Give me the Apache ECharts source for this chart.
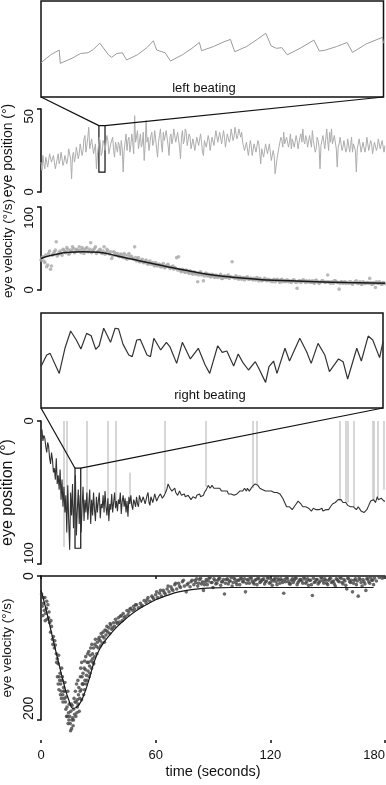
<!DOCTYPE html>
<html><head><meta charset="utf-8">
<script src="https://cdn.jsdelivr.net/npm/echarts@6/dist/echarts.min.js"></script>
<style>html,body{margin:0;padding:0;background:#fff}#c{width:386px;height:785px}</style>
</head><body><div id="c"></div>
<script>
// ---------- data ----------
const timeTicks = [0, 60, 120, 180];
const SAMPLE_DT = 0.5; // seconds between samples of the position traces

// left-beating eye position (deg), t = 0..180 every 0.5 s
const posLeft = [18,13,22,17,14,21,20,15,16,23,
24,18,17,22,21,14,15,20,23,17,
19,24,25,16,18,22,23,17,20,26,
27,20,8,22,24,18,21,27,26,20,
23,29,30,22,25,32,34,24,28,33,
39,26,27,32,31,23,24,29,14,22,
27,33,30,22,24,31,29,25,26,34,
31,23,22,29,28,33,25,21,30,27,
24,30,28,22,31,26,12,25,30,35,
25,31,33,24,28,35,30,23,46,30,
31,37,26,30,35,27,29,36,19,28,
43,30,33,25,24,34,36,28,30,37,
32,26,21,30,34,38,29,24,36,31,
31,37,37,28,22,33,35,29,32,38,
38,30,30,36,35,27,20,33,37,29,
31,38,36,28,29,35,33,26,26,32,
31,25,24,33,33,28,27,35,30,24,
22,31,32,27,28,34,31,25,26,33,
34,28,29,37,36,30,31,36,35,29,
30,37,33,27,28,35,36,30,32,38,
37,31,33,39,40,32,34,38,38,33,
36,30,29,25,24,30,30,22,26,31,
28,22,23,29,30,24,25,31,29,23,
17,26,27,21,22,29,28,23,24,29,
24,19,19,25,22,11,11,20,20,27,
26,33,31,27,36,29,28,33,32,27,
30,35,26,32,33,27,28,34,31,26,
27,33,35,30,38,31,29,34,32,27,
28,34,33,27,37,31,30,24,26,33,
31,27,14,28,29,34,33,26,27,38,
31,25,36,30,38,29,28,34,33,26,
15,27,29,33,32,25,27,31,30,24,
26,32,31,24,28,33,24,29,30,25,
12,26,27,32,31,24,25,30,30,24,
27,33,32,25,26,31,29,23,24,30,
31,25,27,32,33,26,25,31,30,24,
28];

// left-beating slow-phase eye velocity (deg/s): samples at whole seconds and at half seconds
const velLeft = [36,40,33,28,44,25,42,46,58,43,
47,42,48,45,49,44,47,50,46,48,
52,45,49,47,51,46,57,48,50,44,
46,49,44,52,45,47,43,38,46,42,
44,40,43,39,42,37,44,41,38,52,
35,39,34,37,33,36,31,35,32,30,
33,29,31,28,32,27,30,28,27,29,
27,39,40,23,25,22,24,21,23,20,
22,19,10,21,18,11,20,17,19,16,
18,15,17,16,19,14,17,15,18,16,
34,15,17,14,16,13,15,14,16,13,
14,12,13,15,11,13,12,14,11,13,
12,10,13,11,12,9,13,11,10,12,
11,9,12,10,2,11,9,12,10,11,
10,9,11,8,12,10,9,11,10,9,
18,9,10,8,11,9,1,10,8,10,
9,8,10,7,9,11,8,10,7,9,
8,9,14,7,9,3,8,10,7,9,8];
const velLeftHalf = [39,35,42,30,47,29,44,48,41,45,
44,49,46,51,43,48,52,45,49,47,
48,51,44,50,46,49,45,47,52,46,
48,45,47,43,49,44,46,41,45,43,
41,43,40,44,38,42,39,40,37,39,
37,34,36,33,35,32,34,31,33,29,
30,31,28,30,27,29,31,26,28,25,
26,24,25,22,24,21,23,20,22,19,
21,20,18,22,19,17,20,18,16,19,
16,18,15,17,14,16,15,17,14,16,
15,14,16,13,15,14,12,15,13,14,
13,14,12,13,14,11,12,13,12,11,
11,12,10,13,11,12,10,11,12,10,
10,11,12,9,10,11,10,12,9,10,
11,10,9,11,10,8,10,11,9,10,
10,8,9,11,10,9,8,10,9,8,
9,10,8,9,10,8,9,7,10,8,
9,8,9,7,8,10,8,9,7,8];
const velLeftFitT = [0,5,10,15,22,30,40,48,57,66,75,83,92,100,110,118,130,144,160,180];
const velLeftFitV = [38,41.5,44,45.5,46,45.5,41,37,32.5,28,24,20.5,17.5,15.5,13.5,12,11,10,9,8];

// right-beating eye position (deg, plotted downward), t = 0..180 every 0.5 s
const posRight = [8,6,14,10,12,18,22,15,18,26,
30,22,27,36,33,41,26,44,38,48,
34,55,41,60,46,64,52,78,45,70,
90,50,66,44,75,58,38,80,62,48,
72,52,78,60,46,70,55,64,50,69,
58,48,72,55,66,50,62,70,53,64,
56,50,68,58,61,52,64,49,60,66,
54,70,58,62,51,64,57,50,61,56,
63,55,58,50,65,56,52,60,54,64,
56,67,53,58,52,59,62,55,57,60,
53,58,60,52,51,57,58,53,54,58,
57,52,50,57,59,53,53,57,56,51,
52,56,57,53,54,51,50,54,55,52,
53,49,47,44,44,47,46,49,49,48,
47,50,50,52,52,49,49,52,53,51,
51,53,54,52,52,53,53,55,55,53,
52,54,54,52,53,51,51,53,54,52,
52,50,50,48,47,45,45,47,46,45,
46,47,47,46,47,48,48,47,48,49,
49,48,49,50,50,49,51,50,50,51,
51,50,52,53,53,51,50,51,49,48,
48,49,49,47,48,49,47,48,49,48,
48,46,46,45,44,43,43,45,46,47,
47,48,48,47,48,49,49,48,49,50,
50,49,49,50,50,51,51,50,50,51,
51,52,52,54,55,57,58,60,60,61,
60,61,61,62,61,60,60,58,58,56,
55,56,58,59,60,61,61,60,60,61,
61,62,62,63,63,61,61,62,62,63,
63,62,62,61,61,63,63,62,62,61,
61,62,62,60,60,58,58,57,57,56,
56,55,56,55,55,56,57,56,56,57,
58,59,59,60,60,61,61,60,59,60,
62,61,60,61,61,63,63,64,64,63,
65,62,61,59,58,56,56,55,55,56,
57,55,53,55,55,54,54,55,55,56,
56];
// grey saccade artefacts in the right-beating position trace
const spikeT    = [12.0,13.4,23.7,34.7,38.9,46.4,64.7,86.2,110.6,112.8,156.5,159.6,160.3,163.4,173.6,174.3,176.0,179.1];
const spikeFrom = [0,0,0,0,0,36,0,0,0,0,0,0,0,0,0,0,0,0];
const spikeTo   = [88,60,55,62,58,55,50,46,47,44,56,57,57,60,56,56,53,48];

// right-beating slow-phase eye velocity (deg/s, plotted downward): [t, v]
const velRight = [[0.3,25],[0.6,42],[1,55],[1.3,38],[1.7,48],[2,30],[2.4,52],[2.8,45],[3.2,60],[3.6,40],[4,58],[4.5,65],
[5,78],[5.5,70],[6,88],[6.5,84],[7,100],[7.5,96],[8,108],[8.5,115],[9,122],[9.5,140],[10,135],
[10.3,150],[10.6,160],[11,145],[11.4,165],[11.8,155],[12.2,170],[12.5,148],[12.8,175],[13.2,168],[13.6,182],[14,160],[14.4,190],[14.8,178],
[15,195],[15.3,205],[15.6,188],[16,212],[16.3,180],[16.6,197],[17,185],[17.3,170],[17.6,192],[18,160],[18.3,175],[18.6,150],[19,182],[19.3,145],[19.6,165],[20,188],
[20.3,170],[20.6,140],[21,158],[21.3,120],[21.6,150],[22,135],[22.3,165],[22.6,128],[23,145],[23.4,112],[23.8,138],[24.2,120],[24.6,132],[25,105],[25.4,125],[25.8,110],
[26.2,118],[26.6,95],[27,108],[27.5,100],[28,112],[28.5,88],[29,98],[29.5,92],[30,100],[30.5,85],[31,90],[31.5,80],[32,93],[32.5,78],[33,86],[33.5,75],[34,82],[34.5,70],[35,78],
[35.5,72],[36,80],[36.5,68],[37,74],[38,65],[38.5,70],[39,60],[40,66],[40.5,58],[41,64],[42,55],[42.5,62],[43,52],[44,56],[45,48],[45.5,54],[46,50],[47,45],[48,48],[48.5,42],[49,46],[50,40],[51,44],[52,38],[53,41],[54,34],[55,37],[56,30],[57,35],[58,28],[59,32],[60,26],
[61,30],[62,24],[63,28],[64,20],[65,25],[66,18],[67,22],[68,15],[69,20],[70,12],[71,18],[72,10],[73,16],[74,8],[75,14],[76,22],[77,10],[78,15],[79,6],[80,12],[81,9],[82,14],[83,5],[84,11],[85,20],[86,8],[87,12],[88,3],[89,9],[90,16],
[91,6],[92,10],[93,4],[94,13],[95,8],[96,25],[97,5],[98,11],[99,7],[100,14],[101,3],[102,9],[103,6],[104,12],[105,4],[106,8],[107,22],[108,5],[109,10],[110,3],
[111,9],[112,6],[113,12],[114,4],[115,8],[116,5],[117,11],[118,7],[119,3],[120,9],[121,13],[122,5],[123,8],[124,4],[125,10],[126,6],[127,24],[128,8],[129,4],[130,11],
[131,6],[132,9],[133,3],[134,12],[135,7],[136,5],[137,10],[138,4],[139,8],[140,13],[141,6],[142,27],[143,9],[144,5],[145,11],[146,7],[147,3],[148,10],[149,6],[150,12],
[151,4],[152,9],[153,7],[154,14],[155,5],[156,8],[157,3],[158,11],[159,7],[160,18],[161,4],[162,9],[163,22],[164,6],[165,12],[166,28],[167,5],[168,14],[169,8],[170,20],
[171,4],[172,10],[173,6],[174,12],[177,2],[178.5,3],[179.5,2],
[1.2,30],[2.2,62],[3,35],[4.2,50],[5.2,62],[6.2,95],[7.2,90],[8.2,120],[9.2,110],[10.8,128],[11.2,140],[12,160],[13,185],[13.8,195],[14.6,200],[15.8,178],[16.8,208],[17.8,175],[18.8,190],[19.8,155],
[20.8,128],[21.8,150],[22.8,118],[23.6,150],[24.4,108],[25.2,140],[26,100],[27.2,120],[28.2,95],[29.2,108],[30.2,88],[31.2,97],[32.2,84],[33.2,92],[34.2,76],[36.2,66],[37.5,72],[39.5,64],[41.5,56],[43.5,58],
[46.5,46],[49.5,40],[52.5,42],[55.5,33],[58.5,30],[60.5,22],[62.5,20],[64.5,23],[66.5,14],[68.5,18],[70.5,10],[72.5,14],[74.5,6],[76.5,12],[78.5,8],
[8.6,140],[9,150],[9.4,158],[9.8,145],[10.2,165],[10.7,170],[11.5,175],[12.4,160],[13.4,195],[14.2,205],[15.5,215],[16.2,200],[17,200],[18.2,195],[19,172],[19.5,178],
[20.5,160],[21.2,172],[21.5,140],[22.2,150],[22.8,158],[23.2,130],[24,145],[24.8,120],[25.6,135],[26.4,128],[27,115],[27.6,122]];
// extra plateau samples of the same record, at t = 80.5, 81.5, ... 175.5 s
const velRightPlateau = [6,4,10,3,8,12,5,7,2,9,
4,11,6,3,8,5,10,4,7,2,
9,5,12,6,3,8,4,10,6,2,
7,11,5,3,9,6,4,8,2,10,
5,7,3,12,6,4,9,5,2,8,
11,4,6,3,9,5,7,2,10,4,
6,12,3,8,5,9,2,7,4,10,
6,3,8,11,4,7,2,9,5,13,
3,8,6,10,4,7,3,9,5,11,
4,8,2,6,3,7];
const PLATEAU_T0 = 80.5;
const velRightFitT = [0,3,6,9,12,14.5,17,19.5,22,25,28,31,35,40,45,50,55,60,66,72,80,90,100,174];
const velRightFitV = [20,50,85,118,150,172,184,180,168,145,118,100,85,70,58,48,40,33,27,22,18.5,16.5,16,16];

// zoomed windows: [tStart, tEnd, vLow, vHigh]
const winLeft  = [30.3, 33.5, 12, 40];
const winRight = [17.8, 20.8, 33, 89];
// zoomed traces [t, v]
const insetLeft = [[30.30,22.0],[30.39,24.3],[30.47,25.7],[30.48,21.8],[30.59,23.3],[30.67,24.7],[30.74,24.9],[30.79,25.9],[30.85,27.7],[30.93,24.3],[30.96,23.6],[31.01,24.7],[31.06,24.9],[31.10,22.8],[31.20,24.3],[31.29,26.4],[31.35,28.4],[31.38,25.7],[31.46,24.9],[31.51,22.5],[31.62,24.3],[31.71,26.2],[31.78,27.9],[31.80,25.5],[31.91,26.7],[32.01,28.1],[32.07,28.8],[32.11,25.2],[32.22,26.7],[32.32,28.8],[32.40,30.6],[32.45,26.9],[32.50,26.2],[32.55,26.4],[32.60,24.3],[32.72,26.2],[32.85,28.6],[32.90,25.4],[32.96,25.7],[33.06,26.7],[33.16,27.9],[33.21,25.0],[33.34,27.5],[33.49,29.4],[33.50,27.7]];
const insetRight = [[17.80,64.6],[17.85,57.8],[17.88,56.8],[17.96,68.6],[18.01,53.8],[18.06,43.6],[18.11,48.9],[18.15,54.2],[18.20,45.0],[18.24,46.4],[18.28,54.4],[18.31,52.3],[18.35,42.0],[18.41,50.3],[18.45,42.0],[18.48,42.4],[18.52,51.5],[18.57,57.8],[18.60,58.7],[18.64,48.9],[18.67,48.5],[18.73,57.8],[18.76,58.7],[18.79,47.9],[18.85,54.8],[18.90,50.3],[18.93,52.8],[18.99,62.7],[19.04,50.3],[19.11,60.1],[19.18,53.8],[19.24,63.7],[19.28,68.6],[19.35,52.3],[19.39,56.2],[19.43,55.4],[19.49,64.2],[19.53,57.2],[19.57,62.1],[19.62,66.6],[19.68,61.7],[19.71,65.6],[19.77,73.9],[19.80,64.6],[19.84,61.3],[19.87,68.6],[19.94,53.8],[19.98,61.3],[20.07,47.9],[20.13,55.8],[20.17,62.7],[20.23,50.9],[20.29,57.8],[20.33,67.6],[20.41,60.1],[20.45,61.7],[20.49,71.9],[20.57,53.8],[20.61,61.3],[20.67,46.6],[20.71,48.9],[20.77,59.3],[20.80,49.9]];

// ---------- chart ----------
const FONT = '"Liberation Sans", Arial, sans-serif';
const INK = '#111';
const chart = echarts.init(document.getElementById('c'), null, {renderer: 'canvas'});

function hiddenAx(grid, min, max, inverse) {
  return {type: 'value', gridIndex: grid, min, max, inverse: !!inverse, show: false};
}
function yAx(grid, min, max, inverse, name, nameSize, nameGap, maxAlign, labelSize) {
  return {
    type: 'value', gridIndex: grid, min, max, interval: max, inverse,
    name, nameLocation: 'middle', nameGap,
    nameTextStyle: {fontFamily: FONT, fontSize: nameSize, color: INK},
    axisLine: {show: true, lineStyle: {color: INK, width: 1.6}},
    axisTick: {show: true, length: 4, lineStyle: {color: INK, width: 1.5}},
    axisLabel: {rotate: 90, margin: 5, fontFamily: FONT, fontSize: labelSize, color: INK, alignMaxLabel: maxAlign},
    splitLine: {show: false}
  };
}
const timeAxis = {min: timeTicks[0], max: timeTicks[timeTicks.length - 1], interval: timeTicks[1] - timeTicks[0]};
const toSeries = (arr, dt, t0) => arr.map((v, i) => [(t0 || 0) + i * dt, v]);
const zip = (a, b) => a.map((t, i) => [t, b[i]]);

const baseGrid = {containLabel: false, outerBoundsMode: 'none'};
const boxGrid = {show: true, borderColor: INK, borderWidth: 1.5, backgroundColor: 'transparent'};
const option = {
  animation: false,
  backgroundColor: '#fff',
  grid: [
    Object.assign({left: 41, right: 2.5, top: 1, height: 96}, baseGrid, boxGrid),
    Object.assign({left: 41, right: 1, top: 109, height: 83}, baseGrid),
    Object.assign({left: 41, right: 1, top: 207, height: 83}, baseGrid),
    Object.assign({left: 41, right: 3, top: 313, height: 95}, baseGrid, boxGrid),
    Object.assign({left: 41, right: 1, top: 421, height: 143}, baseGrid),
    Object.assign({left: 41, right: 1, top: 576, height: 144}, baseGrid)
  ],
  xAxis: [
    hiddenAx(0, winLeft[0], winLeft[1]),
    Object.assign(hiddenAx(1, 0, 180), timeAxis),
    Object.assign(hiddenAx(2, 0, 180), timeAxis),
    hiddenAx(3, winRight[0], winRight[1]),
    Object.assign(hiddenAx(4, 0, 180), timeAxis),
    Object.assign({
      type: 'value', gridIndex: 5, position: 'bottom', offset: 23,
      name: 'time (seconds)', nameLocation: 'middle', nameGap: 21,
      nameTextStyle: {fontFamily: FONT, fontSize: 14.5, color: INK},
      axisLine: {show: true, lineStyle: {color: INK, width: 1.6}},
      axisTick: {show: true, length: 3, lineStyle: {color: INK, width: 1.5}},
      axisLabel: {margin: 6, fontFamily: FONT, fontSize: 13, color: INK, alignMaxLabel: 'right'},
      splitLine: {show: false}
    }, timeAxis),
    Object.assign({
      type: 'value', gridIndex: 5, position: 'bottom', offset: 23,
      axisLine: {show: false},
      axisTick: {show: true, inside: true, length: 3, lineStyle: {color: INK, width: 1.5}},
      axisLabel: {show: false}, splitLine: {show: false}
    }, timeAxis)
  ],
  yAxis: [
    hiddenAx(0, winLeft[2], winLeft[3]),
    yAx(1, 0, 50, false, 'eye position (°)', 14, 24, 'right', 13),
    yAx(2, 0, 100, false, 'eye velocity (°/s)', 13.5, 24, 'right', 13),
    hiddenAx(3, winRight[2], winRight[3], true),
    yAx(4, 0, 100, true, 'eye position (°)', 16, 21, 'left', 13),
    yAx(5, 0, 200, true, 'eye velocity (°/s)', 13.5, 23, 'left', 14)
  ],
  series: [
    {type: 'line', xAxisIndex: 0, yAxisIndex: 0, data: insetLeft, symbol: 'none',
     lineStyle: {color: '#9c9c9c', width: 1}},
    {type: 'line', xAxisIndex: 1, yAxisIndex: 1, data: toSeries(posLeft, SAMPLE_DT), symbol: 'none',
     lineStyle: {color: '#adadad', width: 1},
     markArea: {silent: true, itemStyle: {color: 'rgba(0,0,0,0)', borderColor: INK, borderWidth: 1.2},
       data: [[{coord: [winLeft[0], winLeft[3]]}, {coord: [winLeft[1], winLeft[2]]}]]}},
    {type: 'scatter', xAxisIndex: 2, yAxisIndex: 2, symbolSize: 3.6, clip: false,
     data: toSeries(velLeft, 1).concat(toSeries(velLeftHalf, 1, 0.5)),
     itemStyle: {color: '#a9a9a9'}},
    {type: 'line', xAxisIndex: 2, yAxisIndex: 2, data: zip(velLeftFitT, velLeftFitV), smooth: true, symbol: 'none',
     lineStyle: {color: '#1a1a1a', width: 1.5}, z: 3},
    {type: 'line', xAxisIndex: 3, yAxisIndex: 3, data: insetRight, symbol: 'none',
     lineStyle: {color: '#333', width: 1.2}},
    {type: 'lines', coordinateSystem: 'cartesian2d', xAxisIndex: 4, yAxisIndex: 4, silent: true, z: 1,
     data: spikeT.map((t, i) => ({coords: [[t, spikeFrom[i]], [t, spikeTo[i]]]})),
     lineStyle: {color: '#cacaca', width: 1.5, opacity: 1}},
    {type: 'line', xAxisIndex: 4, yAxisIndex: 4, data: toSeries(posRight, SAMPLE_DT), symbol: 'none', z: 2,
     lineStyle: {color: '#333', width: 1.1},
     markArea: {silent: true, itemStyle: {color: 'rgba(0,0,0,0)', borderColor: INK, borderWidth: 1.2},
       data: [[{coord: [winRight[0], winRight[2]]}, {coord: [winRight[1], winRight[3]]}]]}},
    {type: 'scatter', xAxisIndex: 5, yAxisIndex: 5, symbolSize: 3.6, clip: false,
     data: velRight.concat(toSeries(velRightPlateau, 1, PLATEAU_T0)),
     itemStyle: {color: '#454545'}},
    {type: 'line', xAxisIndex: 5, yAxisIndex: 5, data: zip(velRightFitT, velRightFitV), smooth: true, symbol: 'none',
     lineStyle: {color: '#1a1a1a', width: 1.2}, z: 3}
  ]
};
chart.setOption(option);

// connector lines from zoom boxes to the marked windows (pixel positions from the axes)
const px = (xi, yi, p) => chart.convertToPixel({xAxisIndex: xi, yAxisIndex: yi}, p);
const a1 = px(0, 0, [winLeft[0], winLeft[2]]), b1 = px(0, 0, [winLeft[1], winLeft[2]]);
const c1 = px(1, 1, [winLeft[0], winLeft[3]]), d1 = px(1, 1, [winLeft[1], winLeft[3]]);
const a2 = px(3, 3, [winRight[0], winRight[3]]), b2 = px(3, 3, [winRight[1], winRight[3]]);
const c2 = px(4, 4, [winRight[0], winRight[2]]), d2 = px(4, 4, [winRight[1], winRight[2]]);
const seg = (p, q) => ({type: 'line', silent: true, z: 10,
  shape: {x1: p[0], y1: p[1], x2: q[0], y2: q[1]}, style: {stroke: INK, lineWidth: 1.2}});
chart.setOption({graphic: [
  seg(a1, c1), seg(b1, d1), seg(a2, c2), seg(b2, d2),
  {type: 'text', x: 204, y: 88, z: 10, style: {text: 'left beating', font: '13px "Liberation Sans", Arial, sans-serif',
    fill: INK, textAlign: 'center', textVerticalAlign: 'middle', verticalAlign: 'middle'}},
  {type: 'text', x: 210, y: 395, z: 10, style: {text: 'right beating', font: '13px "Liberation Sans", Arial, sans-serif',
    fill: INK, textAlign: 'center', textVerticalAlign: 'middle', verticalAlign: 'middle'}}
]});
</script></body></html>
